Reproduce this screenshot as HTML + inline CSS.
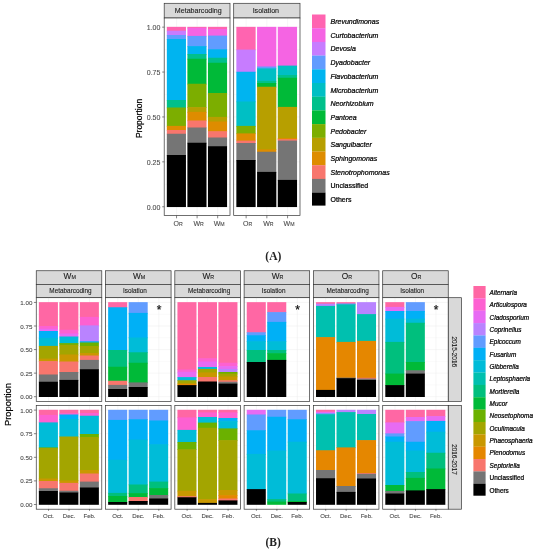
<!DOCTYPE html>
<html lang="en"><head><meta charset="utf-8"><title>Figure</title>
<style>
html,body{margin:0;padding:0;background:#fff;}
body{width:536px;height:550px;overflow:hidden;}
svg{display:block;font-family:"Liberation Sans",Arial,Helvetica,sans-serif;}
</style></head><body>
<svg width="536" height="550" viewBox="0 0 536 550">
<rect x="0" y="0" width="536" height="550" fill="#ffffff"/>
<rect x="164.20" y="3.30" width="65.80" height="14.70" fill="#D9D9D9" stroke="#333333" stroke-width="0.7"/>
<text x="198.30" y="13.10" font-size="7.1" fill="#1A1A1A" stroke="#1A1A1A" stroke-width="0.1" text-anchor="middle" >Metabarcoding</text>
<rect x="164.20" y="18.00" width="65.80" height="197.60" fill="#FFFFFF" />
<line x1="164.20" y1="206.75" x2="230.00" y2="206.75" stroke="#EBEBEB" stroke-width="0.45"/>
<line x1="164.20" y1="184.30" x2="230.00" y2="184.30" stroke="#EBEBEB" stroke-width="0.25"/>
<line x1="164.20" y1="161.85" x2="230.00" y2="161.85" stroke="#EBEBEB" stroke-width="0.45"/>
<line x1="164.20" y1="139.40" x2="230.00" y2="139.40" stroke="#EBEBEB" stroke-width="0.25"/>
<line x1="164.20" y1="116.95" x2="230.00" y2="116.95" stroke="#EBEBEB" stroke-width="0.45"/>
<line x1="164.20" y1="94.50" x2="230.00" y2="94.50" stroke="#EBEBEB" stroke-width="0.25"/>
<line x1="164.20" y1="72.05" x2="230.00" y2="72.05" stroke="#EBEBEB" stroke-width="0.45"/>
<line x1="164.20" y1="49.60" x2="230.00" y2="49.60" stroke="#EBEBEB" stroke-width="0.25"/>
<line x1="164.20" y1="27.15" x2="230.00" y2="27.15" stroke="#EBEBEB" stroke-width="0.45"/>
<line x1="176.54" y1="18.00" x2="176.54" y2="215.60" stroke="#EBEBEB" stroke-width="0.45"/>
<line x1="197.10" y1="18.00" x2="197.10" y2="215.60" stroke="#EBEBEB" stroke-width="0.45"/>
<line x1="217.66" y1="18.00" x2="217.66" y2="215.60" stroke="#EBEBEB" stroke-width="0.45"/>
<rect x="166.83" y="26.85" width="19.12" height="4.60" fill="#FF64B0" />
<rect x="166.83" y="30.75" width="19.12" height="4.95" fill="#C77CFF" />
<rect x="166.83" y="35.00" width="19.12" height="4.70" fill="#619CFF" />
<rect x="166.83" y="39.00" width="19.12" height="61.70" fill="#00B4F0" />
<rect x="166.83" y="100.00" width="19.12" height="8.20" fill="#00C08B" />
<rect x="166.83" y="107.50" width="19.12" height="19.10" fill="#7CAE00" />
<rect x="166.83" y="125.90" width="19.12" height="4.80" fill="#DE8C00" />
<rect x="166.83" y="130.00" width="19.12" height="4.45" fill="#F8766D" />
<rect x="166.83" y="133.75" width="19.12" height="21.95" fill="#757575" />
<rect x="166.83" y="155.00" width="19.12" height="52.05" fill="#000000" />
<rect x="187.39" y="26.85" width="19.12" height="1.60" fill="#FF64B0" />
<rect x="187.39" y="27.75" width="19.12" height="8.85" fill="#F564E3" />
<rect x="187.39" y="35.90" width="19.12" height="10.90" fill="#619CFF" />
<rect x="187.39" y="46.10" width="19.12" height="8.60" fill="#00B4F0" />
<rect x="187.39" y="54.00" width="19.12" height="5.45" fill="#00C08B" />
<rect x="187.39" y="58.75" width="19.12" height="25.70" fill="#00BA38" />
<rect x="187.39" y="83.75" width="19.12" height="24.05" fill="#7CAE00" />
<rect x="187.39" y="107.10" width="19.12" height="5.50" fill="#B79F00" />
<rect x="187.39" y="111.90" width="19.12" height="9.30" fill="#DE8C00" />
<rect x="187.39" y="120.50" width="19.12" height="7.70" fill="#F8766D" />
<rect x="187.39" y="127.50" width="19.12" height="15.95" fill="#757575" />
<rect x="187.39" y="142.75" width="19.12" height="64.30" fill="#000000" />
<rect x="207.95" y="26.85" width="19.12" height="2.85" fill="#FF64B0" />
<rect x="207.95" y="29.00" width="19.12" height="7.30" fill="#F564E3" />
<rect x="207.95" y="35.60" width="19.12" height="14.35" fill="#619CFF" />
<rect x="207.95" y="49.25" width="19.12" height="9.20" fill="#00B4F0" />
<rect x="207.95" y="57.75" width="19.12" height="5.70" fill="#00C08B" />
<rect x="207.95" y="62.75" width="19.12" height="30.95" fill="#00BA38" />
<rect x="207.95" y="93.00" width="19.12" height="24.60" fill="#7CAE00" />
<rect x="207.95" y="116.90" width="19.12" height="5.30" fill="#B79F00" />
<rect x="207.95" y="121.50" width="19.12" height="10.40" fill="#DE8C00" />
<rect x="207.95" y="131.20" width="19.12" height="7.00" fill="#F8766D" />
<rect x="207.95" y="137.50" width="19.12" height="9.45" fill="#757575" />
<rect x="207.95" y="146.25" width="19.12" height="60.80" fill="#000000" />
<rect x="164.20" y="18.00" width="65.80" height="197.60" fill="none" stroke="#333333" stroke-width="0.7"/>
<line x1="176.54" y1="215.60" x2="176.54" y2="218.30" stroke="#333333" stroke-width="0.6"/>
<text x="178.04" y="226.20" font-size="7" fill="#4D4D4D" stroke="#4D4D4D" stroke-width="0.1" text-anchor="middle" >O<tspan font-size="5.2">R</tspan></text>
<line x1="197.10" y1="215.60" x2="197.10" y2="218.30" stroke="#333333" stroke-width="0.6"/>
<text x="198.60" y="226.20" font-size="7" fill="#4D4D4D" stroke="#4D4D4D" stroke-width="0.1" text-anchor="middle" >W<tspan font-size="5.2">R</tspan></text>
<line x1="217.66" y1="215.60" x2="217.66" y2="218.30" stroke="#333333" stroke-width="0.6"/>
<text x="219.16" y="226.20" font-size="7" fill="#4D4D4D" stroke="#4D4D4D" stroke-width="0.1" text-anchor="middle" >W<tspan font-size="5.2">M</tspan></text>
<rect x="233.70" y="3.30" width="66.30" height="14.70" fill="#D9D9D9" stroke="#333333" stroke-width="0.7"/>
<text x="265.85" y="13.10" font-size="7.1" fill="#1A1A1A" stroke="#1A1A1A" stroke-width="0.1" text-anchor="middle" >Isolation</text>
<rect x="233.70" y="18.00" width="66.30" height="197.60" fill="#FFFFFF" />
<line x1="233.70" y1="206.75" x2="300.00" y2="206.75" stroke="#EBEBEB" stroke-width="0.45"/>
<line x1="233.70" y1="184.30" x2="300.00" y2="184.30" stroke="#EBEBEB" stroke-width="0.25"/>
<line x1="233.70" y1="161.85" x2="300.00" y2="161.85" stroke="#EBEBEB" stroke-width="0.45"/>
<line x1="233.70" y1="139.40" x2="300.00" y2="139.40" stroke="#EBEBEB" stroke-width="0.25"/>
<line x1="233.70" y1="116.95" x2="300.00" y2="116.95" stroke="#EBEBEB" stroke-width="0.45"/>
<line x1="233.70" y1="94.50" x2="300.00" y2="94.50" stroke="#EBEBEB" stroke-width="0.25"/>
<line x1="233.70" y1="72.05" x2="300.00" y2="72.05" stroke="#EBEBEB" stroke-width="0.45"/>
<line x1="233.70" y1="49.60" x2="300.00" y2="49.60" stroke="#EBEBEB" stroke-width="0.25"/>
<line x1="233.70" y1="27.15" x2="300.00" y2="27.15" stroke="#EBEBEB" stroke-width="0.45"/>
<line x1="246.13" y1="18.00" x2="246.13" y2="215.60" stroke="#EBEBEB" stroke-width="0.45"/>
<line x1="266.85" y1="18.00" x2="266.85" y2="215.60" stroke="#EBEBEB" stroke-width="0.45"/>
<line x1="287.57" y1="18.00" x2="287.57" y2="215.60" stroke="#EBEBEB" stroke-width="0.45"/>
<rect x="236.35" y="26.85" width="19.27" height="23.45" fill="#FF64B0" />
<rect x="236.35" y="49.60" width="19.27" height="22.85" fill="#C77CFF" />
<rect x="236.35" y="71.75" width="19.27" height="30.45" fill="#00B4F0" />
<rect x="236.35" y="101.50" width="19.27" height="25.10" fill="#00BFC4" />
<rect x="236.35" y="125.90" width="19.27" height="8.20" fill="#7CAE00" />
<rect x="236.35" y="133.40" width="19.27" height="7.90" fill="#DE8C00" />
<rect x="236.35" y="140.60" width="19.27" height="3.10" fill="#F8766D" />
<rect x="236.35" y="143.00" width="19.27" height="17.70" fill="#757575" />
<rect x="236.35" y="160.00" width="19.27" height="47.05" fill="#000000" />
<rect x="257.07" y="26.85" width="19.27" height="40.35" fill="#F564E3" />
<rect x="257.07" y="66.50" width="19.27" height="2.60" fill="#619CFF" />
<rect x="257.07" y="68.40" width="19.27" height="13.20" fill="#00BFC4" />
<rect x="257.07" y="80.90" width="19.27" height="2.80" fill="#00C08B" />
<rect x="257.07" y="83.00" width="19.27" height="4.45" fill="#00BA38" />
<rect x="257.07" y="86.75" width="19.27" height="63.35" fill="#B79F00" />
<rect x="257.07" y="149.40" width="19.27" height="3.05" fill="#DE8C00" />
<rect x="257.07" y="151.75" width="19.27" height="20.85" fill="#757575" />
<rect x="257.07" y="171.90" width="19.27" height="35.15" fill="#000000" />
<rect x="277.78" y="26.85" width="19.27" height="39.45" fill="#F564E3" />
<rect x="277.78" y="65.60" width="19.27" height="10.10" fill="#00BFC4" />
<rect x="277.78" y="75.00" width="19.27" height="3.45" fill="#00C08B" />
<rect x="277.78" y="77.75" width="19.27" height="29.85" fill="#00BA38" />
<rect x="277.78" y="106.90" width="19.27" height="31.80" fill="#B79F00" />
<rect x="277.78" y="138.00" width="19.27" height="1.95" fill="#DE8C00" />
<rect x="277.78" y="139.25" width="19.27" height="2.05" fill="#F8766D" />
<rect x="277.78" y="140.60" width="19.27" height="40.00" fill="#757575" />
<rect x="277.78" y="179.90" width="19.27" height="27.15" fill="#000000" />
<rect x="233.70" y="18.00" width="66.30" height="197.60" fill="none" stroke="#333333" stroke-width="0.7"/>
<line x1="246.13" y1="215.60" x2="246.13" y2="218.30" stroke="#333333" stroke-width="0.6"/>
<text x="247.63" y="226.20" font-size="7" fill="#4D4D4D" stroke="#4D4D4D" stroke-width="0.1" text-anchor="middle" >O<tspan font-size="5.2">R</tspan></text>
<line x1="266.85" y1="215.60" x2="266.85" y2="218.30" stroke="#333333" stroke-width="0.6"/>
<text x="268.35" y="226.20" font-size="7" fill="#4D4D4D" stroke="#4D4D4D" stroke-width="0.1" text-anchor="middle" >W<tspan font-size="5.2">R</tspan></text>
<line x1="287.57" y1="215.60" x2="287.57" y2="218.30" stroke="#333333" stroke-width="0.6"/>
<text x="289.07" y="226.20" font-size="7" fill="#4D4D4D" stroke="#4D4D4D" stroke-width="0.1" text-anchor="middle" >W<tspan font-size="5.2">M</tspan></text>
<line x1="162.20" y1="206.75" x2="164.20" y2="206.75" stroke="#333333" stroke-width="0.6"/>
<text x="160.40" y="209.50" font-size="7" fill="#4D4D4D" stroke="#4D4D4D" stroke-width="0.1" text-anchor="end" >0.00</text>
<line x1="162.20" y1="161.85" x2="164.20" y2="161.85" stroke="#333333" stroke-width="0.6"/>
<text x="160.40" y="164.60" font-size="7" fill="#4D4D4D" stroke="#4D4D4D" stroke-width="0.1" text-anchor="end" >0.25</text>
<line x1="162.20" y1="116.95" x2="164.20" y2="116.95" stroke="#333333" stroke-width="0.6"/>
<text x="160.40" y="119.70" font-size="7" fill="#4D4D4D" stroke="#4D4D4D" stroke-width="0.1" text-anchor="end" >0.50</text>
<line x1="162.20" y1="72.05" x2="164.20" y2="72.05" stroke="#333333" stroke-width="0.6"/>
<text x="160.40" y="74.80" font-size="7" fill="#4D4D4D" stroke="#4D4D4D" stroke-width="0.1" text-anchor="end" >0.75</text>
<line x1="162.20" y1="27.15" x2="164.20" y2="27.15" stroke="#333333" stroke-width="0.6"/>
<text x="160.40" y="29.90" font-size="7" fill="#4D4D4D" stroke="#4D4D4D" stroke-width="0.1" text-anchor="end" >1.00</text>
<text transform="translate(141.9,118.5) rotate(-90)" font-size="8.5" fill="#000" stroke="#000" stroke-width="0.2" text-anchor="middle">Proportion</text>
<rect x="312.00" y="14.50" width="13.50" height="13.80" fill="#FF64B0" />
<text x="330.50" y="24.05" font-size="7" fill="#000" stroke="#000" stroke-width="0.22" text-anchor="start" font-style="italic">Brevundimonas</text>
<rect x="312.00" y="28.20" width="13.50" height="13.80" fill="#F564E3" />
<text x="330.50" y="37.75" font-size="7" fill="#000" stroke="#000" stroke-width="0.22" text-anchor="start" font-style="italic">Curtobacterium</text>
<rect x="312.00" y="41.90" width="13.50" height="13.80" fill="#C77CFF" />
<text x="330.50" y="51.45" font-size="7" fill="#000" stroke="#000" stroke-width="0.22" text-anchor="start" font-style="italic">Devosia</text>
<rect x="312.00" y="55.60" width="13.50" height="13.80" fill="#619CFF" />
<text x="330.50" y="65.15" font-size="7" fill="#000" stroke="#000" stroke-width="0.22" text-anchor="start" font-style="italic">Dyadobacter</text>
<rect x="312.00" y="69.30" width="13.50" height="13.80" fill="#00B4F0" />
<text x="330.50" y="78.85" font-size="7" fill="#000" stroke="#000" stroke-width="0.22" text-anchor="start" font-style="italic">Flavobacterium</text>
<rect x="312.00" y="83.00" width="13.50" height="13.80" fill="#00BFC4" />
<text x="330.50" y="92.55" font-size="7" fill="#000" stroke="#000" stroke-width="0.22" text-anchor="start" font-style="italic">Microbacterium</text>
<rect x="312.00" y="96.70" width="13.50" height="13.80" fill="#00C08B" />
<text x="330.50" y="106.25" font-size="7" fill="#000" stroke="#000" stroke-width="0.22" text-anchor="start" font-style="italic">Neorhizobium</text>
<rect x="312.00" y="110.40" width="13.50" height="13.80" fill="#00BA38" />
<text x="330.50" y="119.95" font-size="7" fill="#000" stroke="#000" stroke-width="0.22" text-anchor="start" font-style="italic">Pantoea</text>
<rect x="312.00" y="124.10" width="13.50" height="13.80" fill="#7CAE00" />
<text x="330.50" y="133.65" font-size="7" fill="#000" stroke="#000" stroke-width="0.22" text-anchor="start" font-style="italic">Pedobacter</text>
<rect x="312.00" y="137.80" width="13.50" height="13.80" fill="#B79F00" />
<text x="330.50" y="147.35" font-size="7" fill="#000" stroke="#000" stroke-width="0.22" text-anchor="start" font-style="italic">Sanguibacter</text>
<rect x="312.00" y="151.50" width="13.50" height="13.80" fill="#DE8C00" />
<text x="330.50" y="161.05" font-size="7" fill="#000" stroke="#000" stroke-width="0.22" text-anchor="start" font-style="italic">Sphingomonas</text>
<rect x="312.00" y="165.20" width="13.50" height="13.80" fill="#F8766D" />
<text x="330.50" y="174.75" font-size="7" fill="#000" stroke="#000" stroke-width="0.22" text-anchor="start" font-style="italic">Stenotrophomonas</text>
<rect x="312.00" y="178.90" width="13.50" height="13.80" fill="#757575" />
<text x="330.50" y="188.45" font-size="7" fill="#000" stroke="#000" stroke-width="0.22" text-anchor="start" >Unclassified</text>
<rect x="312.00" y="192.60" width="13.50" height="13.00" fill="#000000" />
<text x="330.50" y="202.15" font-size="7" fill="#000" stroke="#000" stroke-width="0.22" text-anchor="start" >Others</text>
<text x="273.3" y="259.9" font-size="11.5" font-weight="bold" fill="#222" text-anchor="middle" font-family="Liberation Serif, Times New Roman, serif">(A)</text>
<rect x="36.25" y="270.75" width="65.54" height="13.65" fill="#D9D9D9" stroke="#333333" stroke-width="0.7"/>
<rect x="36.25" y="284.40" width="65.54" height="13.30" fill="#D9D9D9" stroke="#333333" stroke-width="0.7"/>
<text x="69.72" y="279.45" font-size="8.3" fill="#1A1A1A" stroke="#1A1A1A" stroke-width="0.1" text-anchor="middle" >W<tspan font-size="5.3">M</tspan></text>
<text x="70.47" y="293.10" font-size="6.4" fill="#1A1A1A" stroke="#1A1A1A" stroke-width="0.1" text-anchor="middle" >Metabarcoding</text>
<rect x="36.25" y="297.70" width="65.54" height="103.70" fill="#FFFFFF" />
<line x1="36.25" y1="396.70" x2="101.79" y2="396.70" stroke="#EBEBEB" stroke-width="0.45"/>
<line x1="36.25" y1="384.92" x2="101.79" y2="384.92" stroke="#EBEBEB" stroke-width="0.25"/>
<line x1="36.25" y1="373.14" x2="101.79" y2="373.14" stroke="#EBEBEB" stroke-width="0.45"/>
<line x1="36.25" y1="361.36" x2="101.79" y2="361.36" stroke="#EBEBEB" stroke-width="0.25"/>
<line x1="36.25" y1="349.57" x2="101.79" y2="349.57" stroke="#EBEBEB" stroke-width="0.45"/>
<line x1="36.25" y1="337.79" x2="101.79" y2="337.79" stroke="#EBEBEB" stroke-width="0.25"/>
<line x1="36.25" y1="326.01" x2="101.79" y2="326.01" stroke="#EBEBEB" stroke-width="0.45"/>
<line x1="36.25" y1="314.23" x2="101.79" y2="314.23" stroke="#EBEBEB" stroke-width="0.25"/>
<line x1="36.25" y1="302.45" x2="101.79" y2="302.45" stroke="#EBEBEB" stroke-width="0.45"/>
<line x1="48.54" y1="297.70" x2="48.54" y2="401.40" stroke="#EBEBEB" stroke-width="0.45"/>
<line x1="69.02" y1="297.70" x2="69.02" y2="401.40" stroke="#EBEBEB" stroke-width="0.45"/>
<line x1="89.50" y1="297.70" x2="89.50" y2="401.40" stroke="#EBEBEB" stroke-width="0.45"/>
<rect x="38.86" y="302.15" width="19.05" height="24.55" fill="#FF67A4" />
<rect x="38.86" y="326.00" width="19.05" height="3.45" fill="#FD61D1" />
<rect x="38.86" y="328.75" width="19.05" height="2.95" fill="#E76BF3" />
<rect x="38.86" y="331.00" width="19.05" height="7.60" fill="#00B0F6" />
<rect x="38.86" y="337.90" width="19.05" height="8.70" fill="#00BCD8" />
<rect x="38.86" y="345.90" width="19.05" height="13.40" fill="#A3A500" />
<rect x="38.86" y="358.60" width="19.05" height="3.20" fill="#C99800" />
<rect x="38.86" y="361.10" width="19.05" height="14.10" fill="#F8766D" />
<rect x="38.86" y="374.50" width="19.05" height="7.95" fill="#757575" />
<rect x="38.86" y="381.75" width="19.05" height="15.25" fill="#000000" />
<rect x="59.35" y="302.15" width="19.05" height="28.30" fill="#FF67A4" />
<rect x="59.35" y="329.75" width="19.05" height="4.45" fill="#FD61D1" />
<rect x="59.35" y="333.50" width="19.05" height="3.70" fill="#E76BF3" />
<rect x="59.35" y="336.50" width="19.05" height="7.30" fill="#00BCD8" />
<rect x="59.35" y="343.10" width="19.05" height="2.35" fill="#6BB100" />
<rect x="59.35" y="344.75" width="19.05" height="10.45" fill="#A3A500" />
<rect x="59.35" y="354.50" width="19.05" height="7.70" fill="#C99800" />
<rect x="59.35" y="361.50" width="19.05" height="11.20" fill="#F8766D" />
<rect x="59.35" y="372.00" width="19.05" height="8.60" fill="#757575" />
<rect x="59.35" y="379.90" width="19.05" height="17.10" fill="#000000" />
<rect x="79.83" y="302.15" width="19.05" height="15.45" fill="#FF67A4" />
<rect x="79.83" y="316.90" width="19.05" height="9.20" fill="#FD61D1" />
<rect x="79.83" y="325.40" width="19.05" height="16.55" fill="#B983FF" />
<rect x="79.83" y="341.25" width="19.05" height="1.95" fill="#00B0F6" />
<rect x="79.83" y="342.50" width="19.05" height="4.20" fill="#6BB100" />
<rect x="79.83" y="346.00" width="19.05" height="7.70" fill="#A3A500" />
<rect x="79.83" y="353.00" width="19.05" height="3.20" fill="#C99800" />
<rect x="79.83" y="355.50" width="19.05" height="5.10" fill="#F8766D" />
<rect x="79.83" y="359.90" width="19.05" height="10.05" fill="#757575" />
<rect x="79.83" y="369.25" width="19.05" height="27.75" fill="#000000" />
<rect x="36.25" y="297.70" width="65.54" height="103.70" fill="none" stroke="#333333" stroke-width="0.7"/>
<rect x="36.25" y="405.35" width="65.54" height="103.85" fill="#FFFFFF" />
<line x1="36.25" y1="504.50" x2="101.79" y2="504.50" stroke="#EBEBEB" stroke-width="0.45"/>
<line x1="36.25" y1="492.70" x2="101.79" y2="492.70" stroke="#EBEBEB" stroke-width="0.25"/>
<line x1="36.25" y1="480.90" x2="101.79" y2="480.90" stroke="#EBEBEB" stroke-width="0.45"/>
<line x1="36.25" y1="469.10" x2="101.79" y2="469.10" stroke="#EBEBEB" stroke-width="0.25"/>
<line x1="36.25" y1="457.30" x2="101.79" y2="457.30" stroke="#EBEBEB" stroke-width="0.45"/>
<line x1="36.25" y1="445.50" x2="101.79" y2="445.50" stroke="#EBEBEB" stroke-width="0.25"/>
<line x1="36.25" y1="433.70" x2="101.79" y2="433.70" stroke="#EBEBEB" stroke-width="0.45"/>
<line x1="36.25" y1="421.90" x2="101.79" y2="421.90" stroke="#EBEBEB" stroke-width="0.25"/>
<line x1="36.25" y1="410.10" x2="101.79" y2="410.10" stroke="#EBEBEB" stroke-width="0.45"/>
<line x1="48.54" y1="405.35" x2="48.54" y2="509.20" stroke="#EBEBEB" stroke-width="0.45"/>
<line x1="69.02" y1="405.35" x2="69.02" y2="509.20" stroke="#EBEBEB" stroke-width="0.45"/>
<line x1="89.50" y1="405.35" x2="89.50" y2="509.20" stroke="#EBEBEB" stroke-width="0.45"/>
<rect x="38.86" y="409.80" width="19.05" height="5.80" fill="#FF67A4" />
<rect x="38.86" y="414.90" width="19.05" height="8.20" fill="#FD61D1" />
<rect x="38.86" y="422.40" width="19.05" height="25.70" fill="#00BCD8" />
<rect x="38.86" y="447.40" width="19.05" height="1.30" fill="#6BB100" />
<rect x="38.86" y="448.00" width="19.05" height="31.20" fill="#A3A500" />
<rect x="38.86" y="478.50" width="19.05" height="3.20" fill="#C99800" />
<rect x="38.86" y="481.00" width="19.05" height="7.95" fill="#F8766D" />
<rect x="38.86" y="488.25" width="19.05" height="3.45" fill="#757575" />
<rect x="38.86" y="491.00" width="19.05" height="13.80" fill="#000000" />
<rect x="59.35" y="409.80" width="19.05" height="4.15" fill="#FF67A4" />
<rect x="59.35" y="413.25" width="19.05" height="1.95" fill="#FD61D1" />
<rect x="59.35" y="414.50" width="19.05" height="5.20" fill="#00B0F6" />
<rect x="59.35" y="419.00" width="19.05" height="18.20" fill="#00BCD8" />
<rect x="59.35" y="436.50" width="19.05" height="44.60" fill="#A3A500" />
<rect x="59.35" y="480.40" width="19.05" height="3.20" fill="#C99800" />
<rect x="59.35" y="482.90" width="19.05" height="8.55" fill="#F8766D" />
<rect x="59.35" y="490.75" width="19.05" height="2.45" fill="#757575" />
<rect x="59.35" y="492.50" width="19.05" height="12.30" fill="#000000" />
<rect x="79.83" y="409.80" width="19.05" height="3.90" fill="#FF67A4" />
<rect x="79.83" y="413.00" width="19.05" height="3.45" fill="#FD61D1" />
<rect x="79.83" y="415.75" width="19.05" height="18.95" fill="#00BCD8" />
<rect x="79.83" y="434.00" width="19.05" height="3.70" fill="#6BB100" />
<rect x="79.83" y="437.00" width="19.05" height="33.70" fill="#A3A500" />
<rect x="79.83" y="470.00" width="19.05" height="4.20" fill="#C99800" />
<rect x="79.83" y="473.50" width="19.05" height="8.80" fill="#F8766D" />
<rect x="79.83" y="481.60" width="19.05" height="6.60" fill="#757575" />
<rect x="79.83" y="487.50" width="19.05" height="17.30" fill="#000000" />
<rect x="36.25" y="405.35" width="65.54" height="103.85" fill="none" stroke="#333333" stroke-width="0.7"/>
<line x1="48.54" y1="509.20" x2="48.54" y2="510.80" stroke="#333333" stroke-width="0.6"/>
<text x="48.54" y="517.50" font-size="6.0" fill="#4D4D4D" stroke="#4D4D4D" stroke-width="0.1" text-anchor="middle" >Oct.</text>
<line x1="69.02" y1="509.20" x2="69.02" y2="510.80" stroke="#333333" stroke-width="0.6"/>
<text x="69.02" y="517.50" font-size="6.0" fill="#4D4D4D" stroke="#4D4D4D" stroke-width="0.1" text-anchor="middle" >Dec.</text>
<line x1="89.50" y1="509.20" x2="89.50" y2="510.80" stroke="#333333" stroke-width="0.6"/>
<text x="89.50" y="517.50" font-size="6.0" fill="#4D4D4D" stroke="#4D4D4D" stroke-width="0.1" text-anchor="middle" >Feb.</text>
<rect x="105.54" y="270.75" width="65.54" height="13.65" fill="#D9D9D9" stroke="#333333" stroke-width="0.7"/>
<rect x="105.54" y="284.40" width="65.54" height="13.30" fill="#D9D9D9" stroke="#333333" stroke-width="0.7"/>
<text x="139.01" y="279.45" font-size="8.3" fill="#1A1A1A" stroke="#1A1A1A" stroke-width="0.1" text-anchor="middle" >W<tspan font-size="5.3">M</tspan></text>
<text x="135.01" y="293.10" font-size="6.4" fill="#1A1A1A" stroke="#1A1A1A" stroke-width="0.1" text-anchor="middle" >Isolation</text>
<rect x="105.54" y="297.70" width="65.54" height="103.70" fill="#FFFFFF" />
<line x1="105.54" y1="396.70" x2="171.08" y2="396.70" stroke="#EBEBEB" stroke-width="0.45"/>
<line x1="105.54" y1="384.92" x2="171.08" y2="384.92" stroke="#EBEBEB" stroke-width="0.25"/>
<line x1="105.54" y1="373.14" x2="171.08" y2="373.14" stroke="#EBEBEB" stroke-width="0.45"/>
<line x1="105.54" y1="361.36" x2="171.08" y2="361.36" stroke="#EBEBEB" stroke-width="0.25"/>
<line x1="105.54" y1="349.57" x2="171.08" y2="349.57" stroke="#EBEBEB" stroke-width="0.45"/>
<line x1="105.54" y1="337.79" x2="171.08" y2="337.79" stroke="#EBEBEB" stroke-width="0.25"/>
<line x1="105.54" y1="326.01" x2="171.08" y2="326.01" stroke="#EBEBEB" stroke-width="0.45"/>
<line x1="105.54" y1="314.23" x2="171.08" y2="314.23" stroke="#EBEBEB" stroke-width="0.25"/>
<line x1="105.54" y1="302.45" x2="171.08" y2="302.45" stroke="#EBEBEB" stroke-width="0.45"/>
<line x1="117.83" y1="297.70" x2="117.83" y2="401.40" stroke="#EBEBEB" stroke-width="0.45"/>
<line x1="138.31" y1="297.70" x2="138.31" y2="401.40" stroke="#EBEBEB" stroke-width="0.45"/>
<line x1="158.79" y1="297.70" x2="158.79" y2="401.40" stroke="#EBEBEB" stroke-width="0.45"/>
<rect x="108.15" y="302.15" width="19.05" height="5.80" fill="#FF67A4" />
<rect x="108.15" y="307.25" width="19.05" height="43.45" fill="#00B0F6" />
<rect x="108.15" y="350.00" width="19.05" height="17.45" fill="#00BF7D" />
<rect x="108.15" y="366.75" width="19.05" height="14.70" fill="#00BA38" />
<rect x="108.15" y="380.75" width="19.05" height="4.85" fill="#F8766D" />
<rect x="108.15" y="384.90" width="19.05" height="4.80" fill="#757575" />
<rect x="108.15" y="389.00" width="19.05" height="8.00" fill="#000000" />
<rect x="128.64" y="302.15" width="19.05" height="11.45" fill="#619CFF" />
<rect x="128.64" y="312.90" width="19.05" height="25.30" fill="#00B0F6" />
<rect x="128.64" y="337.50" width="19.05" height="15.50" fill="#00BCD8" />
<rect x="128.64" y="352.30" width="19.05" height="11.15" fill="#00BF7D" />
<rect x="128.64" y="362.75" width="19.05" height="20.35" fill="#00BA38" />
<rect x="128.64" y="382.40" width="19.05" height="5.30" fill="#757575" />
<rect x="128.64" y="387.00" width="19.05" height="10.00" fill="#000000" />
<rect x="105.54" y="297.70" width="65.54" height="103.70" fill="none" stroke="#333333" stroke-width="0.7"/>
<text x="158.99" y="314.30" font-size="12" fill="#111" stroke="#111" stroke-width="0.22" text-anchor="middle" >*</text>
<rect x="105.54" y="405.35" width="65.54" height="103.85" fill="#FFFFFF" />
<line x1="105.54" y1="504.50" x2="171.08" y2="504.50" stroke="#EBEBEB" stroke-width="0.45"/>
<line x1="105.54" y1="492.70" x2="171.08" y2="492.70" stroke="#EBEBEB" stroke-width="0.25"/>
<line x1="105.54" y1="480.90" x2="171.08" y2="480.90" stroke="#EBEBEB" stroke-width="0.45"/>
<line x1="105.54" y1="469.10" x2="171.08" y2="469.10" stroke="#EBEBEB" stroke-width="0.25"/>
<line x1="105.54" y1="457.30" x2="171.08" y2="457.30" stroke="#EBEBEB" stroke-width="0.45"/>
<line x1="105.54" y1="445.50" x2="171.08" y2="445.50" stroke="#EBEBEB" stroke-width="0.25"/>
<line x1="105.54" y1="433.70" x2="171.08" y2="433.70" stroke="#EBEBEB" stroke-width="0.45"/>
<line x1="105.54" y1="421.90" x2="171.08" y2="421.90" stroke="#EBEBEB" stroke-width="0.25"/>
<line x1="105.54" y1="410.10" x2="171.08" y2="410.10" stroke="#EBEBEB" stroke-width="0.45"/>
<line x1="117.83" y1="405.35" x2="117.83" y2="509.20" stroke="#EBEBEB" stroke-width="0.45"/>
<line x1="138.31" y1="405.35" x2="138.31" y2="509.20" stroke="#EBEBEB" stroke-width="0.45"/>
<line x1="158.79" y1="405.35" x2="158.79" y2="509.20" stroke="#EBEBEB" stroke-width="0.45"/>
<rect x="108.15" y="409.80" width="19.05" height="10.80" fill="#619CFF" />
<rect x="108.15" y="419.90" width="19.05" height="40.60" fill="#00B0F6" />
<rect x="108.15" y="459.80" width="19.05" height="33.80" fill="#00BCD8" />
<rect x="108.15" y="492.90" width="19.05" height="3.80" fill="#00BF7D" />
<rect x="108.15" y="496.00" width="19.05" height="6.70" fill="#00BA38" />
<rect x="108.15" y="502.00" width="19.05" height="2.80" fill="#000000" />
<rect x="128.64" y="409.80" width="19.05" height="10.15" fill="#619CFF" />
<rect x="128.64" y="419.25" width="19.05" height="21.05" fill="#00B0F6" />
<rect x="128.64" y="439.60" width="19.05" height="45.60" fill="#00BCD8" />
<rect x="128.64" y="484.50" width="19.05" height="9.30" fill="#00BF7D" />
<rect x="128.64" y="493.10" width="19.05" height="4.60" fill="#00BA38" />
<rect x="128.64" y="497.00" width="19.05" height="4.70" fill="#F8766D" />
<rect x="128.64" y="501.00" width="19.05" height="3.80" fill="#000000" />
<rect x="149.12" y="409.80" width="19.05" height="11.40" fill="#619CFF" />
<rect x="149.12" y="420.50" width="19.05" height="24.45" fill="#00B0F6" />
<rect x="149.12" y="444.25" width="19.05" height="38.05" fill="#00BCD8" />
<rect x="149.12" y="481.60" width="19.05" height="7.20" fill="#00BF7D" />
<rect x="149.12" y="488.10" width="19.05" height="7.60" fill="#00BA38" />
<rect x="149.12" y="495.00" width="19.05" height="4.20" fill="#757575" />
<rect x="149.12" y="498.50" width="19.05" height="6.30" fill="#000000" />
<rect x="105.54" y="405.35" width="65.54" height="103.85" fill="none" stroke="#333333" stroke-width="0.7"/>
<line x1="117.83" y1="509.20" x2="117.83" y2="510.80" stroke="#333333" stroke-width="0.6"/>
<text x="117.83" y="517.50" font-size="6.0" fill="#4D4D4D" stroke="#4D4D4D" stroke-width="0.1" text-anchor="middle" >Oct.</text>
<line x1="138.31" y1="509.20" x2="138.31" y2="510.80" stroke="#333333" stroke-width="0.6"/>
<text x="138.31" y="517.50" font-size="6.0" fill="#4D4D4D" stroke="#4D4D4D" stroke-width="0.1" text-anchor="middle" >Dec.</text>
<line x1="158.79" y1="509.20" x2="158.79" y2="510.80" stroke="#333333" stroke-width="0.6"/>
<text x="158.79" y="517.50" font-size="6.0" fill="#4D4D4D" stroke="#4D4D4D" stroke-width="0.1" text-anchor="middle" >Feb.</text>
<rect x="174.83" y="270.75" width="65.54" height="13.65" fill="#D9D9D9" stroke="#333333" stroke-width="0.7"/>
<rect x="174.83" y="284.40" width="65.54" height="13.30" fill="#D9D9D9" stroke="#333333" stroke-width="0.7"/>
<text x="208.30" y="279.45" font-size="8.3" fill="#1A1A1A" stroke="#1A1A1A" stroke-width="0.1" text-anchor="middle" >W<tspan font-size="5.3">R</tspan></text>
<text x="209.05" y="293.10" font-size="6.4" fill="#1A1A1A" stroke="#1A1A1A" stroke-width="0.1" text-anchor="middle" >Metabarcoding</text>
<rect x="174.83" y="297.70" width="65.54" height="103.70" fill="#FFFFFF" />
<line x1="174.83" y1="396.70" x2="240.37" y2="396.70" stroke="#EBEBEB" stroke-width="0.45"/>
<line x1="174.83" y1="384.92" x2="240.37" y2="384.92" stroke="#EBEBEB" stroke-width="0.25"/>
<line x1="174.83" y1="373.14" x2="240.37" y2="373.14" stroke="#EBEBEB" stroke-width="0.45"/>
<line x1="174.83" y1="361.36" x2="240.37" y2="361.36" stroke="#EBEBEB" stroke-width="0.25"/>
<line x1="174.83" y1="349.57" x2="240.37" y2="349.57" stroke="#EBEBEB" stroke-width="0.45"/>
<line x1="174.83" y1="337.79" x2="240.37" y2="337.79" stroke="#EBEBEB" stroke-width="0.25"/>
<line x1="174.83" y1="326.01" x2="240.37" y2="326.01" stroke="#EBEBEB" stroke-width="0.45"/>
<line x1="174.83" y1="314.23" x2="240.37" y2="314.23" stroke="#EBEBEB" stroke-width="0.25"/>
<line x1="174.83" y1="302.45" x2="240.37" y2="302.45" stroke="#EBEBEB" stroke-width="0.45"/>
<line x1="187.12" y1="297.70" x2="187.12" y2="401.40" stroke="#EBEBEB" stroke-width="0.45"/>
<line x1="207.60" y1="297.70" x2="207.60" y2="401.40" stroke="#EBEBEB" stroke-width="0.45"/>
<line x1="228.08" y1="297.70" x2="228.08" y2="401.40" stroke="#EBEBEB" stroke-width="0.45"/>
<rect x="177.44" y="302.15" width="19.05" height="68.05" fill="#FF67A4" />
<rect x="177.44" y="369.50" width="19.05" height="2.95" fill="#FD61D1" />
<rect x="177.44" y="371.75" width="19.05" height="6.05" fill="#E76BF3" />
<rect x="177.44" y="377.10" width="19.05" height="3.85" fill="#00BCD8" />
<rect x="177.44" y="380.25" width="19.05" height="4.05" fill="#A3A500" />
<rect x="177.44" y="383.60" width="19.05" height="2.20" fill="#E58700" />
<rect x="177.44" y="385.10" width="19.05" height="11.90" fill="#000000" />
<rect x="197.93" y="302.15" width="19.05" height="56.80" fill="#FF67A4" />
<rect x="197.93" y="358.25" width="19.05" height="3.95" fill="#FD61D1" />
<rect x="197.93" y="361.50" width="19.05" height="6.20" fill="#E76BF3" />
<rect x="197.93" y="367.00" width="19.05" height="2.60" fill="#00BCD8" />
<rect x="197.93" y="368.90" width="19.05" height="4.20" fill="#A3A500" />
<rect x="197.93" y="372.40" width="19.05" height="5.30" fill="#C99800" />
<rect x="197.93" y="377.00" width="19.05" height="5.20" fill="#F8766D" />
<rect x="197.93" y="381.50" width="19.05" height="15.50" fill="#000000" />
<rect x="218.41" y="302.15" width="19.05" height="61.30" fill="#FF67A4" />
<rect x="218.41" y="362.75" width="19.05" height="4.05" fill="#FD61D1" />
<rect x="218.41" y="366.10" width="19.05" height="3.50" fill="#E76BF3" />
<rect x="218.41" y="368.90" width="19.05" height="3.80" fill="#B983FF" />
<rect x="218.41" y="372.00" width="19.05" height="2.30" fill="#6BB100" />
<rect x="218.41" y="373.60" width="19.05" height="3.60" fill="#A3A500" />
<rect x="218.41" y="376.50" width="19.05" height="4.45" fill="#C99800" />
<rect x="218.41" y="380.25" width="19.05" height="2.20" fill="#F8766D" />
<rect x="218.41" y="381.75" width="19.05" height="2.55" fill="#757575" />
<rect x="218.41" y="383.60" width="19.05" height="13.40" fill="#000000" />
<rect x="174.83" y="297.70" width="65.54" height="103.70" fill="none" stroke="#333333" stroke-width="0.7"/>
<rect x="174.83" y="405.35" width="65.54" height="103.85" fill="#FFFFFF" />
<line x1="174.83" y1="504.50" x2="240.37" y2="504.50" stroke="#EBEBEB" stroke-width="0.45"/>
<line x1="174.83" y1="492.70" x2="240.37" y2="492.70" stroke="#EBEBEB" stroke-width="0.25"/>
<line x1="174.83" y1="480.90" x2="240.37" y2="480.90" stroke="#EBEBEB" stroke-width="0.45"/>
<line x1="174.83" y1="469.10" x2="240.37" y2="469.10" stroke="#EBEBEB" stroke-width="0.25"/>
<line x1="174.83" y1="457.30" x2="240.37" y2="457.30" stroke="#EBEBEB" stroke-width="0.45"/>
<line x1="174.83" y1="445.50" x2="240.37" y2="445.50" stroke="#EBEBEB" stroke-width="0.25"/>
<line x1="174.83" y1="433.70" x2="240.37" y2="433.70" stroke="#EBEBEB" stroke-width="0.45"/>
<line x1="174.83" y1="421.90" x2="240.37" y2="421.90" stroke="#EBEBEB" stroke-width="0.25"/>
<line x1="174.83" y1="410.10" x2="240.37" y2="410.10" stroke="#EBEBEB" stroke-width="0.45"/>
<line x1="187.12" y1="405.35" x2="187.12" y2="509.20" stroke="#EBEBEB" stroke-width="0.45"/>
<line x1="207.60" y1="405.35" x2="207.60" y2="509.20" stroke="#EBEBEB" stroke-width="0.45"/>
<line x1="228.08" y1="405.35" x2="228.08" y2="509.20" stroke="#EBEBEB" stroke-width="0.45"/>
<rect x="177.44" y="409.80" width="19.05" height="8.30" fill="#FF67A4" />
<rect x="177.44" y="417.40" width="19.05" height="13.20" fill="#FD61D1" />
<rect x="177.44" y="429.90" width="19.05" height="12.80" fill="#00BCD8" />
<rect x="177.44" y="442.00" width="19.05" height="7.95" fill="#6BB100" />
<rect x="177.44" y="449.25" width="19.05" height="42.20" fill="#A3A500" />
<rect x="177.44" y="490.75" width="19.05" height="6.20" fill="#C99800" />
<rect x="177.44" y="496.25" width="19.05" height="1.70" fill="#F8766D" />
<rect x="177.44" y="497.25" width="19.05" height="7.55" fill="#000000" />
<rect x="197.93" y="409.80" width="19.05" height="3.30" fill="#FF67A4" />
<rect x="197.93" y="412.40" width="19.05" height="5.30" fill="#FD61D1" />
<rect x="197.93" y="417.00" width="19.05" height="6.30" fill="#00BCD8" />
<rect x="197.93" y="422.60" width="19.05" height="5.85" fill="#6BB100" />
<rect x="197.93" y="427.75" width="19.05" height="72.05" fill="#A3A500" />
<rect x="197.93" y="499.10" width="19.05" height="4.50" fill="#C99800" />
<rect x="197.93" y="502.90" width="19.05" height="1.90" fill="#000000" />
<rect x="218.41" y="409.80" width="19.05" height="3.30" fill="#FF67A4" />
<rect x="218.41" y="412.40" width="19.05" height="6.30" fill="#FD61D1" />
<rect x="218.41" y="418.00" width="19.05" height="3.80" fill="#00B0F6" />
<rect x="218.41" y="421.10" width="19.05" height="8.00" fill="#00BCD8" />
<rect x="218.41" y="428.40" width="19.05" height="12.40" fill="#6BB100" />
<rect x="218.41" y="440.10" width="19.05" height="50.60" fill="#A3A500" />
<rect x="218.41" y="490.00" width="19.05" height="5.90" fill="#C99800" />
<rect x="218.41" y="495.20" width="19.05" height="4.00" fill="#E58700" />
<rect x="218.41" y="498.50" width="19.05" height="2.60" fill="#F8766D" />
<rect x="218.41" y="500.40" width="19.05" height="4.40" fill="#000000" />
<rect x="174.83" y="405.35" width="65.54" height="103.85" fill="none" stroke="#333333" stroke-width="0.7"/>
<line x1="187.12" y1="509.20" x2="187.12" y2="510.80" stroke="#333333" stroke-width="0.6"/>
<text x="187.12" y="517.50" font-size="6.0" fill="#4D4D4D" stroke="#4D4D4D" stroke-width="0.1" text-anchor="middle" >Oct.</text>
<line x1="207.60" y1="509.20" x2="207.60" y2="510.80" stroke="#333333" stroke-width="0.6"/>
<text x="207.60" y="517.50" font-size="6.0" fill="#4D4D4D" stroke="#4D4D4D" stroke-width="0.1" text-anchor="middle" >Dec.</text>
<line x1="228.08" y1="509.20" x2="228.08" y2="510.80" stroke="#333333" stroke-width="0.6"/>
<text x="228.08" y="517.50" font-size="6.0" fill="#4D4D4D" stroke="#4D4D4D" stroke-width="0.1" text-anchor="middle" >Feb.</text>
<rect x="244.12" y="270.75" width="65.54" height="13.65" fill="#D9D9D9" stroke="#333333" stroke-width="0.7"/>
<rect x="244.12" y="284.40" width="65.54" height="13.30" fill="#D9D9D9" stroke="#333333" stroke-width="0.7"/>
<text x="277.59" y="279.45" font-size="8.3" fill="#1A1A1A" stroke="#1A1A1A" stroke-width="0.1" text-anchor="middle" >W<tspan font-size="5.3">R</tspan></text>
<text x="273.59" y="293.10" font-size="6.4" fill="#1A1A1A" stroke="#1A1A1A" stroke-width="0.1" text-anchor="middle" >Isolation</text>
<rect x="244.12" y="297.70" width="65.54" height="103.70" fill="#FFFFFF" />
<line x1="244.12" y1="396.70" x2="309.66" y2="396.70" stroke="#EBEBEB" stroke-width="0.45"/>
<line x1="244.12" y1="384.92" x2="309.66" y2="384.92" stroke="#EBEBEB" stroke-width="0.25"/>
<line x1="244.12" y1="373.14" x2="309.66" y2="373.14" stroke="#EBEBEB" stroke-width="0.45"/>
<line x1="244.12" y1="361.36" x2="309.66" y2="361.36" stroke="#EBEBEB" stroke-width="0.25"/>
<line x1="244.12" y1="349.57" x2="309.66" y2="349.57" stroke="#EBEBEB" stroke-width="0.45"/>
<line x1="244.12" y1="337.79" x2="309.66" y2="337.79" stroke="#EBEBEB" stroke-width="0.25"/>
<line x1="244.12" y1="326.01" x2="309.66" y2="326.01" stroke="#EBEBEB" stroke-width="0.45"/>
<line x1="244.12" y1="314.23" x2="309.66" y2="314.23" stroke="#EBEBEB" stroke-width="0.25"/>
<line x1="244.12" y1="302.45" x2="309.66" y2="302.45" stroke="#EBEBEB" stroke-width="0.45"/>
<line x1="256.41" y1="297.70" x2="256.41" y2="401.40" stroke="#EBEBEB" stroke-width="0.45"/>
<line x1="276.89" y1="297.70" x2="276.89" y2="401.40" stroke="#EBEBEB" stroke-width="0.45"/>
<line x1="297.37" y1="297.70" x2="297.37" y2="401.40" stroke="#EBEBEB" stroke-width="0.45"/>
<rect x="246.73" y="302.15" width="19.05" height="30.80" fill="#FF67A4" />
<rect x="246.73" y="332.25" width="19.05" height="3.70" fill="#619CFF" />
<rect x="246.73" y="335.25" width="19.05" height="6.70" fill="#00B0F6" />
<rect x="246.73" y="341.25" width="19.05" height="9.45" fill="#00BCD8" />
<rect x="246.73" y="350.00" width="19.05" height="12.70" fill="#00BF7D" />
<rect x="246.73" y="362.00" width="19.05" height="35.00" fill="#000000" />
<rect x="267.22" y="302.15" width="19.05" height="10.65" fill="#FF67A4" />
<rect x="267.22" y="312.10" width="19.05" height="10.50" fill="#619CFF" />
<rect x="267.22" y="321.90" width="19.05" height="20.05" fill="#00B0F6" />
<rect x="267.22" y="341.25" width="19.05" height="9.45" fill="#00BCD8" />
<rect x="267.22" y="350.00" width="19.05" height="3.90" fill="#00BF7D" />
<rect x="267.22" y="353.20" width="19.05" height="7.40" fill="#00BA38" />
<rect x="267.22" y="359.90" width="19.05" height="37.10" fill="#000000" />
<rect x="244.12" y="297.70" width="65.54" height="103.70" fill="none" stroke="#333333" stroke-width="0.7"/>
<text x="297.57" y="314.30" font-size="12" fill="#111" stroke="#111" stroke-width="0.22" text-anchor="middle" >*</text>
<rect x="244.12" y="405.35" width="65.54" height="103.85" fill="#FFFFFF" />
<line x1="244.12" y1="504.50" x2="309.66" y2="504.50" stroke="#EBEBEB" stroke-width="0.45"/>
<line x1="244.12" y1="492.70" x2="309.66" y2="492.70" stroke="#EBEBEB" stroke-width="0.25"/>
<line x1="244.12" y1="480.90" x2="309.66" y2="480.90" stroke="#EBEBEB" stroke-width="0.45"/>
<line x1="244.12" y1="469.10" x2="309.66" y2="469.10" stroke="#EBEBEB" stroke-width="0.25"/>
<line x1="244.12" y1="457.30" x2="309.66" y2="457.30" stroke="#EBEBEB" stroke-width="0.45"/>
<line x1="244.12" y1="445.50" x2="309.66" y2="445.50" stroke="#EBEBEB" stroke-width="0.25"/>
<line x1="244.12" y1="433.70" x2="309.66" y2="433.70" stroke="#EBEBEB" stroke-width="0.45"/>
<line x1="244.12" y1="421.90" x2="309.66" y2="421.90" stroke="#EBEBEB" stroke-width="0.25"/>
<line x1="244.12" y1="410.10" x2="309.66" y2="410.10" stroke="#EBEBEB" stroke-width="0.45"/>
<line x1="256.41" y1="405.35" x2="256.41" y2="509.20" stroke="#EBEBEB" stroke-width="0.45"/>
<line x1="276.89" y1="405.35" x2="276.89" y2="509.20" stroke="#EBEBEB" stroke-width="0.45"/>
<line x1="297.37" y1="405.35" x2="297.37" y2="509.20" stroke="#EBEBEB" stroke-width="0.45"/>
<rect x="246.73" y="409.80" width="19.05" height="5.40" fill="#E76BF3" />
<rect x="246.73" y="414.50" width="19.05" height="16.45" fill="#619CFF" />
<rect x="246.73" y="430.25" width="19.05" height="24.35" fill="#00B0F6" />
<rect x="246.73" y="453.90" width="19.05" height="35.90" fill="#00BCD8" />
<rect x="246.73" y="489.10" width="19.05" height="15.70" fill="#000000" />
<rect x="267.22" y="409.80" width="19.05" height="7.65" fill="#619CFF" />
<rect x="267.22" y="416.75" width="19.05" height="34.45" fill="#00B0F6" />
<rect x="267.22" y="450.50" width="19.05" height="49.30" fill="#00BCD8" />
<rect x="267.22" y="499.10" width="19.05" height="3.20" fill="#00BF7D" />
<rect x="267.22" y="501.60" width="19.05" height="3.20" fill="#00BA38" />
<rect x="287.70" y="409.80" width="19.05" height="10.15" fill="#619CFF" />
<rect x="287.70" y="419.25" width="19.05" height="23.20" fill="#00B0F6" />
<rect x="287.70" y="441.75" width="19.05" height="52.45" fill="#00BCD8" />
<rect x="287.70" y="493.50" width="19.05" height="8.20" fill="#00BF7D" />
<rect x="287.70" y="501.00" width="19.05" height="1.70" fill="#00BA38" />
<rect x="287.70" y="502.00" width="19.05" height="2.80" fill="#000000" />
<rect x="244.12" y="405.35" width="65.54" height="103.85" fill="none" stroke="#333333" stroke-width="0.7"/>
<line x1="256.41" y1="509.20" x2="256.41" y2="510.80" stroke="#333333" stroke-width="0.6"/>
<text x="256.41" y="517.50" font-size="6.0" fill="#4D4D4D" stroke="#4D4D4D" stroke-width="0.1" text-anchor="middle" >Oct.</text>
<line x1="276.89" y1="509.20" x2="276.89" y2="510.80" stroke="#333333" stroke-width="0.6"/>
<text x="276.89" y="517.50" font-size="6.0" fill="#4D4D4D" stroke="#4D4D4D" stroke-width="0.1" text-anchor="middle" >Dec.</text>
<line x1="297.37" y1="509.20" x2="297.37" y2="510.80" stroke="#333333" stroke-width="0.6"/>
<text x="297.37" y="517.50" font-size="6.0" fill="#4D4D4D" stroke="#4D4D4D" stroke-width="0.1" text-anchor="middle" >Feb.</text>
<rect x="313.41" y="270.75" width="65.54" height="13.65" fill="#D9D9D9" stroke="#333333" stroke-width="0.7"/>
<rect x="313.41" y="284.40" width="65.54" height="13.30" fill="#D9D9D9" stroke="#333333" stroke-width="0.7"/>
<text x="346.88" y="279.45" font-size="8.3" fill="#1A1A1A" stroke="#1A1A1A" stroke-width="0.1" text-anchor="middle" >O<tspan font-size="5.3">R</tspan></text>
<text x="347.63" y="293.10" font-size="6.4" fill="#1A1A1A" stroke="#1A1A1A" stroke-width="0.1" text-anchor="middle" >Metabarcoding</text>
<rect x="313.41" y="297.70" width="65.54" height="103.70" fill="#FFFFFF" />
<line x1="313.41" y1="396.70" x2="378.95" y2="396.70" stroke="#EBEBEB" stroke-width="0.45"/>
<line x1="313.41" y1="384.92" x2="378.95" y2="384.92" stroke="#EBEBEB" stroke-width="0.25"/>
<line x1="313.41" y1="373.14" x2="378.95" y2="373.14" stroke="#EBEBEB" stroke-width="0.45"/>
<line x1="313.41" y1="361.36" x2="378.95" y2="361.36" stroke="#EBEBEB" stroke-width="0.25"/>
<line x1="313.41" y1="349.57" x2="378.95" y2="349.57" stroke="#EBEBEB" stroke-width="0.45"/>
<line x1="313.41" y1="337.79" x2="378.95" y2="337.79" stroke="#EBEBEB" stroke-width="0.25"/>
<line x1="313.41" y1="326.01" x2="378.95" y2="326.01" stroke="#EBEBEB" stroke-width="0.45"/>
<line x1="313.41" y1="314.23" x2="378.95" y2="314.23" stroke="#EBEBEB" stroke-width="0.25"/>
<line x1="313.41" y1="302.45" x2="378.95" y2="302.45" stroke="#EBEBEB" stroke-width="0.45"/>
<line x1="325.70" y1="297.70" x2="325.70" y2="401.40" stroke="#EBEBEB" stroke-width="0.45"/>
<line x1="346.18" y1="297.70" x2="346.18" y2="401.40" stroke="#EBEBEB" stroke-width="0.45"/>
<line x1="366.66" y1="297.70" x2="366.66" y2="401.40" stroke="#EBEBEB" stroke-width="0.45"/>
<rect x="316.02" y="302.15" width="19.05" height="2.30" fill="#FF67A4" />
<rect x="316.02" y="303.75" width="19.05" height="2.85" fill="#B983FF" />
<rect x="316.02" y="305.90" width="19.05" height="31.90" fill="#00C0AF" />
<rect x="316.02" y="337.10" width="19.05" height="53.50" fill="#E58700" />
<rect x="316.02" y="389.90" width="19.05" height="7.10" fill="#000000" />
<rect x="336.51" y="302.15" width="19.05" height="2.05" fill="#FF67A4" />
<rect x="336.51" y="303.50" width="19.05" height="1.60" fill="#619CFF" />
<rect x="336.51" y="304.40" width="19.05" height="38.20" fill="#00C0AF" />
<rect x="336.51" y="341.90" width="19.05" height="36.40" fill="#E58700" />
<rect x="336.51" y="377.60" width="19.05" height="1.30" fill="#757575" />
<rect x="336.51" y="378.20" width="19.05" height="18.80" fill="#000000" />
<rect x="356.99" y="302.15" width="19.05" height="12.65" fill="#B983FF" />
<rect x="356.99" y="314.10" width="19.05" height="27.50" fill="#00C0AF" />
<rect x="356.99" y="340.90" width="19.05" height="37.55" fill="#E58700" />
<rect x="356.99" y="377.75" width="19.05" height="1.55" fill="#F8766D" />
<rect x="356.99" y="378.60" width="19.05" height="2.00" fill="#757575" />
<rect x="356.99" y="379.90" width="19.05" height="17.10" fill="#000000" />
<rect x="313.41" y="297.70" width="65.54" height="103.70" fill="none" stroke="#333333" stroke-width="0.7"/>
<rect x="313.41" y="405.35" width="65.54" height="103.85" fill="#FFFFFF" />
<line x1="313.41" y1="504.50" x2="378.95" y2="504.50" stroke="#EBEBEB" stroke-width="0.45"/>
<line x1="313.41" y1="492.70" x2="378.95" y2="492.70" stroke="#EBEBEB" stroke-width="0.25"/>
<line x1="313.41" y1="480.90" x2="378.95" y2="480.90" stroke="#EBEBEB" stroke-width="0.45"/>
<line x1="313.41" y1="469.10" x2="378.95" y2="469.10" stroke="#EBEBEB" stroke-width="0.25"/>
<line x1="313.41" y1="457.30" x2="378.95" y2="457.30" stroke="#EBEBEB" stroke-width="0.45"/>
<line x1="313.41" y1="445.50" x2="378.95" y2="445.50" stroke="#EBEBEB" stroke-width="0.25"/>
<line x1="313.41" y1="433.70" x2="378.95" y2="433.70" stroke="#EBEBEB" stroke-width="0.45"/>
<line x1="313.41" y1="421.90" x2="378.95" y2="421.90" stroke="#EBEBEB" stroke-width="0.25"/>
<line x1="313.41" y1="410.10" x2="378.95" y2="410.10" stroke="#EBEBEB" stroke-width="0.45"/>
<line x1="325.70" y1="405.35" x2="325.70" y2="509.20" stroke="#EBEBEB" stroke-width="0.45"/>
<line x1="346.18" y1="405.35" x2="346.18" y2="509.20" stroke="#EBEBEB" stroke-width="0.45"/>
<line x1="366.66" y1="405.35" x2="366.66" y2="509.20" stroke="#EBEBEB" stroke-width="0.45"/>
<rect x="316.02" y="409.80" width="19.05" height="2.65" fill="#FF67A4" />
<rect x="316.02" y="411.75" width="19.05" height="2.20" fill="#E76BF3" />
<rect x="316.02" y="413.25" width="19.05" height="1.70" fill="#619CFF" />
<rect x="316.02" y="414.25" width="19.05" height="36.70" fill="#00C0AF" />
<rect x="316.02" y="450.25" width="19.05" height="20.45" fill="#E58700" />
<rect x="316.02" y="470.00" width="19.05" height="8.95" fill="#757575" />
<rect x="316.02" y="478.25" width="19.05" height="26.55" fill="#000000" />
<rect x="336.51" y="409.80" width="19.05" height="3.00" fill="#B983FF" />
<rect x="336.51" y="412.10" width="19.05" height="36.00" fill="#00C0AF" />
<rect x="336.51" y="447.40" width="19.05" height="39.30" fill="#E58700" />
<rect x="336.51" y="486.00" width="19.05" height="6.60" fill="#757575" />
<rect x="336.51" y="491.90" width="19.05" height="12.90" fill="#000000" />
<rect x="356.99" y="409.80" width="19.05" height="4.90" fill="#B983FF" />
<rect x="356.99" y="414.00" width="19.05" height="26.80" fill="#00C0AF" />
<rect x="356.99" y="440.10" width="19.05" height="33.70" fill="#E58700" />
<rect x="356.99" y="473.10" width="19.05" height="1.40" fill="#F8766D" />
<rect x="356.99" y="473.80" width="19.05" height="5.40" fill="#757575" />
<rect x="356.99" y="478.50" width="19.05" height="26.30" fill="#000000" />
<rect x="313.41" y="405.35" width="65.54" height="103.85" fill="none" stroke="#333333" stroke-width="0.7"/>
<line x1="325.70" y1="509.20" x2="325.70" y2="510.80" stroke="#333333" stroke-width="0.6"/>
<text x="325.70" y="517.50" font-size="6.0" fill="#4D4D4D" stroke="#4D4D4D" stroke-width="0.1" text-anchor="middle" >Oct.</text>
<line x1="346.18" y1="509.20" x2="346.18" y2="510.80" stroke="#333333" stroke-width="0.6"/>
<text x="346.18" y="517.50" font-size="6.0" fill="#4D4D4D" stroke="#4D4D4D" stroke-width="0.1" text-anchor="middle" >Dec.</text>
<line x1="366.66" y1="509.20" x2="366.66" y2="510.80" stroke="#333333" stroke-width="0.6"/>
<text x="366.66" y="517.50" font-size="6.0" fill="#4D4D4D" stroke="#4D4D4D" stroke-width="0.1" text-anchor="middle" >Feb.</text>
<rect x="382.70" y="270.75" width="65.54" height="13.65" fill="#D9D9D9" stroke="#333333" stroke-width="0.7"/>
<rect x="382.70" y="284.40" width="65.54" height="13.30" fill="#D9D9D9" stroke="#333333" stroke-width="0.7"/>
<text x="416.17" y="279.45" font-size="8.3" fill="#1A1A1A" stroke="#1A1A1A" stroke-width="0.1" text-anchor="middle" >O<tspan font-size="5.3">R</tspan></text>
<text x="412.17" y="293.10" font-size="6.4" fill="#1A1A1A" stroke="#1A1A1A" stroke-width="0.1" text-anchor="middle" >Isolation</text>
<rect x="382.70" y="297.70" width="65.54" height="103.70" fill="#FFFFFF" />
<line x1="382.70" y1="396.70" x2="448.24" y2="396.70" stroke="#EBEBEB" stroke-width="0.45"/>
<line x1="382.70" y1="384.92" x2="448.24" y2="384.92" stroke="#EBEBEB" stroke-width="0.25"/>
<line x1="382.70" y1="373.14" x2="448.24" y2="373.14" stroke="#EBEBEB" stroke-width="0.45"/>
<line x1="382.70" y1="361.36" x2="448.24" y2="361.36" stroke="#EBEBEB" stroke-width="0.25"/>
<line x1="382.70" y1="349.57" x2="448.24" y2="349.57" stroke="#EBEBEB" stroke-width="0.45"/>
<line x1="382.70" y1="337.79" x2="448.24" y2="337.79" stroke="#EBEBEB" stroke-width="0.25"/>
<line x1="382.70" y1="326.01" x2="448.24" y2="326.01" stroke="#EBEBEB" stroke-width="0.45"/>
<line x1="382.70" y1="314.23" x2="448.24" y2="314.23" stroke="#EBEBEB" stroke-width="0.25"/>
<line x1="382.70" y1="302.45" x2="448.24" y2="302.45" stroke="#EBEBEB" stroke-width="0.45"/>
<line x1="394.99" y1="297.70" x2="394.99" y2="401.40" stroke="#EBEBEB" stroke-width="0.45"/>
<line x1="415.47" y1="297.70" x2="415.47" y2="401.40" stroke="#EBEBEB" stroke-width="0.45"/>
<line x1="435.95" y1="297.70" x2="435.95" y2="401.40" stroke="#EBEBEB" stroke-width="0.45"/>
<rect x="385.31" y="302.15" width="19.05" height="5.45" fill="#FF67A4" />
<rect x="385.31" y="306.90" width="19.05" height="4.80" fill="#E76BF3" />
<rect x="385.31" y="311.00" width="19.05" height="8.45" fill="#00B0F6" />
<rect x="385.31" y="318.75" width="19.05" height="23.85" fill="#00BCD8" />
<rect x="385.31" y="341.90" width="19.05" height="32.40" fill="#00BF7D" />
<rect x="385.31" y="373.60" width="19.05" height="12.20" fill="#00BA38" />
<rect x="385.31" y="385.10" width="19.05" height="11.90" fill="#000000" />
<rect x="405.80" y="302.15" width="19.05" height="9.55" fill="#619CFF" />
<rect x="405.80" y="311.00" width="19.05" height="8.45" fill="#00B0F6" />
<rect x="405.80" y="318.75" width="19.05" height="4.70" fill="#00BCD8" />
<rect x="405.80" y="322.75" width="19.05" height="39.95" fill="#00BF7D" />
<rect x="405.80" y="362.00" width="19.05" height="8.95" fill="#00BA38" />
<rect x="405.80" y="370.25" width="19.05" height="4.05" fill="#757575" />
<rect x="405.80" y="373.60" width="19.05" height="23.40" fill="#000000" />
<rect x="382.70" y="297.70" width="65.54" height="103.70" fill="none" stroke="#333333" stroke-width="0.7"/>
<text x="436.15" y="314.30" font-size="12" fill="#111" stroke="#111" stroke-width="0.22" text-anchor="middle" >*</text>
<rect x="382.70" y="405.35" width="65.54" height="103.85" fill="#FFFFFF" />
<line x1="382.70" y1="504.50" x2="448.24" y2="504.50" stroke="#EBEBEB" stroke-width="0.45"/>
<line x1="382.70" y1="492.70" x2="448.24" y2="492.70" stroke="#EBEBEB" stroke-width="0.25"/>
<line x1="382.70" y1="480.90" x2="448.24" y2="480.90" stroke="#EBEBEB" stroke-width="0.45"/>
<line x1="382.70" y1="469.10" x2="448.24" y2="469.10" stroke="#EBEBEB" stroke-width="0.25"/>
<line x1="382.70" y1="457.30" x2="448.24" y2="457.30" stroke="#EBEBEB" stroke-width="0.45"/>
<line x1="382.70" y1="445.50" x2="448.24" y2="445.50" stroke="#EBEBEB" stroke-width="0.25"/>
<line x1="382.70" y1="433.70" x2="448.24" y2="433.70" stroke="#EBEBEB" stroke-width="0.45"/>
<line x1="382.70" y1="421.90" x2="448.24" y2="421.90" stroke="#EBEBEB" stroke-width="0.25"/>
<line x1="382.70" y1="410.10" x2="448.24" y2="410.10" stroke="#EBEBEB" stroke-width="0.45"/>
<line x1="394.99" y1="405.35" x2="394.99" y2="509.20" stroke="#EBEBEB" stroke-width="0.45"/>
<line x1="415.47" y1="405.35" x2="415.47" y2="509.20" stroke="#EBEBEB" stroke-width="0.45"/>
<line x1="435.95" y1="405.35" x2="435.95" y2="509.20" stroke="#EBEBEB" stroke-width="0.45"/>
<rect x="385.31" y="409.80" width="19.05" height="13.30" fill="#FF67A4" />
<rect x="385.31" y="422.40" width="19.05" height="11.70" fill="#E76BF3" />
<rect x="385.31" y="433.40" width="19.05" height="3.80" fill="#619CFF" />
<rect x="385.31" y="436.50" width="19.05" height="5.95" fill="#00B0F6" />
<rect x="385.31" y="441.75" width="19.05" height="43.95" fill="#00BCD8" />
<rect x="385.31" y="485.00" width="19.05" height="6.70" fill="#00BA38" />
<rect x="385.31" y="491.00" width="19.05" height="3.20" fill="#757575" />
<rect x="385.31" y="493.50" width="19.05" height="11.30" fill="#000000" />
<rect x="405.80" y="409.80" width="19.05" height="7.90" fill="#FF67A4" />
<rect x="405.80" y="417.00" width="19.05" height="4.80" fill="#E76BF3" />
<rect x="405.80" y="421.10" width="19.05" height="21.35" fill="#619CFF" />
<rect x="405.80" y="441.75" width="19.05" height="9.45" fill="#00B0F6" />
<rect x="405.80" y="450.50" width="19.05" height="22.20" fill="#00BCD8" />
<rect x="405.80" y="472.00" width="19.05" height="6.60" fill="#00BF7D" />
<rect x="405.80" y="477.90" width="19.05" height="13.20" fill="#00BA38" />
<rect x="405.80" y="490.40" width="19.05" height="14.40" fill="#000000" />
<rect x="426.28" y="409.80" width="19.05" height="7.00" fill="#FF67A4" />
<rect x="426.28" y="416.10" width="19.05" height="5.50" fill="#E76BF3" />
<rect x="426.28" y="420.90" width="19.05" height="11.55" fill="#00B0F6" />
<rect x="426.28" y="431.75" width="19.05" height="21.70" fill="#00BCD8" />
<rect x="426.28" y="452.75" width="19.05" height="16.45" fill="#00BF7D" />
<rect x="426.28" y="468.50" width="19.05" height="21.30" fill="#00BA38" />
<rect x="426.28" y="489.10" width="19.05" height="15.70" fill="#000000" />
<rect x="382.70" y="405.35" width="65.54" height="103.85" fill="none" stroke="#333333" stroke-width="0.7"/>
<line x1="394.99" y1="509.20" x2="394.99" y2="510.80" stroke="#333333" stroke-width="0.6"/>
<text x="394.99" y="517.50" font-size="6.0" fill="#4D4D4D" stroke="#4D4D4D" stroke-width="0.1" text-anchor="middle" >Oct.</text>
<line x1="415.47" y1="509.20" x2="415.47" y2="510.80" stroke="#333333" stroke-width="0.6"/>
<text x="415.47" y="517.50" font-size="6.0" fill="#4D4D4D" stroke="#4D4D4D" stroke-width="0.1" text-anchor="middle" >Dec.</text>
<line x1="435.95" y1="509.20" x2="435.95" y2="510.80" stroke="#333333" stroke-width="0.6"/>
<text x="435.95" y="517.50" font-size="6.0" fill="#4D4D4D" stroke="#4D4D4D" stroke-width="0.1" text-anchor="middle" >Feb.</text>
<rect x="448.30" y="297.70" width="13.10" height="103.70" fill="#D9D9D9" stroke="#333333" stroke-width="0.7"/>
<text transform="translate(452.3,351.75) rotate(90)" font-size="6.4" fill="#1A1A1A" stroke="#1A1A1A" stroke-width="0.1" text-anchor="middle">2015-2016</text>
<line x1="33.90" y1="396.70" x2="36.25" y2="396.70" stroke="#333333" stroke-width="0.6"/>
<text x="32.40" y="399.20" font-size="6.2" fill="#4D4D4D" stroke="#4D4D4D" stroke-width="0.1" text-anchor="end" >0.00</text>
<line x1="33.90" y1="373.14" x2="36.25" y2="373.14" stroke="#333333" stroke-width="0.6"/>
<text x="32.40" y="375.64" font-size="6.2" fill="#4D4D4D" stroke="#4D4D4D" stroke-width="0.1" text-anchor="end" >0.25</text>
<line x1="33.90" y1="349.57" x2="36.25" y2="349.57" stroke="#333333" stroke-width="0.6"/>
<text x="32.40" y="352.07" font-size="6.2" fill="#4D4D4D" stroke="#4D4D4D" stroke-width="0.1" text-anchor="end" >0.50</text>
<line x1="33.90" y1="326.01" x2="36.25" y2="326.01" stroke="#333333" stroke-width="0.6"/>
<text x="32.40" y="328.51" font-size="6.2" fill="#4D4D4D" stroke="#4D4D4D" stroke-width="0.1" text-anchor="end" >0.75</text>
<line x1="33.90" y1="302.45" x2="36.25" y2="302.45" stroke="#333333" stroke-width="0.6"/>
<text x="32.40" y="304.95" font-size="6.2" fill="#4D4D4D" stroke="#4D4D4D" stroke-width="0.1" text-anchor="end" >1.00</text>
<rect x="448.30" y="405.35" width="13.10" height="103.85" fill="#D9D9D9" stroke="#333333" stroke-width="0.7"/>
<text transform="translate(452.3,459.47) rotate(90)" font-size="6.4" fill="#1A1A1A" stroke="#1A1A1A" stroke-width="0.1" text-anchor="middle">2016-2017</text>
<line x1="33.90" y1="504.50" x2="36.25" y2="504.50" stroke="#333333" stroke-width="0.6"/>
<text x="32.40" y="507.00" font-size="6.2" fill="#4D4D4D" stroke="#4D4D4D" stroke-width="0.1" text-anchor="end" >0.00</text>
<line x1="33.90" y1="480.90" x2="36.25" y2="480.90" stroke="#333333" stroke-width="0.6"/>
<text x="32.40" y="483.40" font-size="6.2" fill="#4D4D4D" stroke="#4D4D4D" stroke-width="0.1" text-anchor="end" >0.25</text>
<line x1="33.90" y1="457.30" x2="36.25" y2="457.30" stroke="#333333" stroke-width="0.6"/>
<text x="32.40" y="459.80" font-size="6.2" fill="#4D4D4D" stroke="#4D4D4D" stroke-width="0.1" text-anchor="end" >0.50</text>
<line x1="33.90" y1="433.70" x2="36.25" y2="433.70" stroke="#333333" stroke-width="0.6"/>
<text x="32.40" y="436.20" font-size="6.2" fill="#4D4D4D" stroke="#4D4D4D" stroke-width="0.1" text-anchor="end" >0.75</text>
<line x1="33.90" y1="410.10" x2="36.25" y2="410.10" stroke="#333333" stroke-width="0.6"/>
<text x="32.40" y="412.60" font-size="6.2" fill="#4D4D4D" stroke="#4D4D4D" stroke-width="0.1" text-anchor="end" >1.00</text>
<text transform="translate(10.8,404.5) rotate(-90)" font-size="9.3" fill="#000" stroke="#000" stroke-width="0.2" text-anchor="middle">Proportion</text>
<rect x="473.40" y="286.00" width="12.20" height="12.46" fill="#FF67A4" />
<text x="489.60" y="294.78" font-size="6.4" fill="#000" stroke="#000" stroke-width="0.22" text-anchor="start" font-style="italic">Alternaria</text>
<rect x="473.40" y="298.36" width="12.20" height="12.46" fill="#FD61D1" />
<text x="489.60" y="307.14" font-size="6.4" fill="#000" stroke="#000" stroke-width="0.22" text-anchor="start" font-style="italic">Articulospora</text>
<rect x="473.40" y="310.72" width="12.20" height="12.46" fill="#E76BF3" />
<text x="489.60" y="319.50" font-size="6.4" fill="#000" stroke="#000" stroke-width="0.22" text-anchor="start" font-style="italic">Cladosporium</text>
<rect x="473.40" y="323.08" width="12.20" height="12.46" fill="#B983FF" />
<text x="489.60" y="331.86" font-size="6.4" fill="#000" stroke="#000" stroke-width="0.22" text-anchor="start" font-style="italic">Coprinellus</text>
<rect x="473.40" y="335.44" width="12.20" height="12.46" fill="#619CFF" />
<text x="489.60" y="344.22" font-size="6.4" fill="#000" stroke="#000" stroke-width="0.22" text-anchor="start" font-style="italic">Epicoccum</text>
<rect x="473.40" y="347.80" width="12.20" height="12.46" fill="#00B0F6" />
<text x="489.60" y="356.58" font-size="6.4" fill="#000" stroke="#000" stroke-width="0.22" text-anchor="start" font-style="italic">Fusarium</text>
<rect x="473.40" y="360.16" width="12.20" height="12.46" fill="#00BCD8" />
<text x="489.60" y="368.94" font-size="6.4" fill="#000" stroke="#000" stroke-width="0.22" text-anchor="start" font-style="italic">Gibberella</text>
<rect x="473.40" y="372.52" width="12.20" height="12.46" fill="#00C0AF" />
<text x="489.60" y="381.30" font-size="6.4" fill="#000" stroke="#000" stroke-width="0.22" text-anchor="start" font-style="italic">Leptosphaeria</text>
<rect x="473.40" y="384.88" width="12.20" height="12.46" fill="#00BF7D" />
<text x="489.60" y="393.66" font-size="6.4" fill="#000" stroke="#000" stroke-width="0.22" text-anchor="start" font-style="italic">Mortierella</text>
<rect x="473.40" y="397.24" width="12.20" height="12.46" fill="#00BA38" />
<text x="489.60" y="406.02" font-size="6.4" fill="#000" stroke="#000" stroke-width="0.22" text-anchor="start" font-style="italic">Mucor</text>
<rect x="473.40" y="409.60" width="12.20" height="12.46" fill="#6BB100" />
<text x="489.60" y="418.38" font-size="6.4" fill="#000" stroke="#000" stroke-width="0.22" text-anchor="start" font-style="italic">Neosetophoma</text>
<rect x="473.40" y="421.96" width="12.20" height="12.46" fill="#A3A500" />
<text x="489.60" y="430.74" font-size="6.4" fill="#000" stroke="#000" stroke-width="0.22" text-anchor="start" font-style="italic">Oculimacula</text>
<rect x="473.40" y="434.32" width="12.20" height="12.46" fill="#C99800" />
<text x="489.60" y="443.10" font-size="6.4" fill="#000" stroke="#000" stroke-width="0.22" text-anchor="start" font-style="italic">Phaeosphaeria</text>
<rect x="473.40" y="446.68" width="12.20" height="12.46" fill="#E58700" />
<text x="489.60" y="455.46" font-size="6.4" fill="#000" stroke="#000" stroke-width="0.22" text-anchor="start" font-style="italic">Plenodomus</text>
<rect x="473.40" y="459.04" width="12.20" height="12.46" fill="#F8766D" />
<text x="489.60" y="467.82" font-size="6.4" fill="#000" stroke="#000" stroke-width="0.22" text-anchor="start" font-style="italic">Septoriella</text>
<rect x="473.40" y="471.40" width="12.20" height="12.46" fill="#757575" />
<text x="489.60" y="480.18" font-size="6.4" fill="#000" stroke="#000" stroke-width="0.22" text-anchor="start" >Unclassified</text>
<rect x="473.40" y="483.76" width="12.20" height="11.94" fill="#000000" />
<text x="489.60" y="492.54" font-size="6.4" fill="#000" stroke="#000" stroke-width="0.22" text-anchor="start" >Others</text>
<text x="273.1" y="545.8" font-size="11.5" font-weight="bold" fill="#222" text-anchor="middle" font-family="Liberation Serif, Times New Roman, serif">(B)</text>
</svg>
</body></html>
